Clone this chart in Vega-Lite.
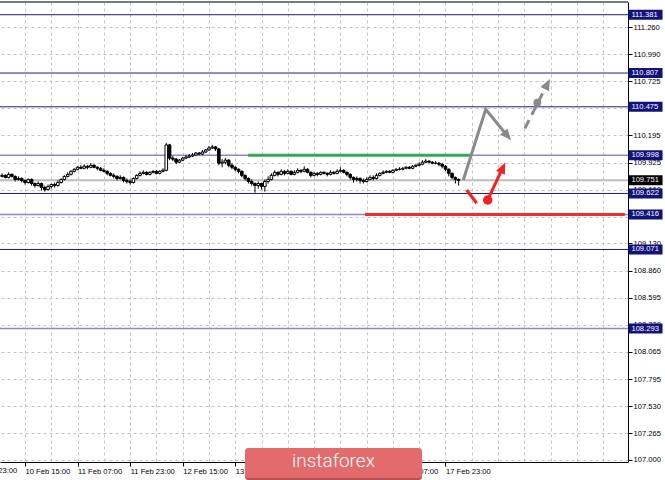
{
"$schema": "https://vega.github.io/schema/vega-lite/v6.json",
"width": 628, "height": 460,
"autosize": {"type": "none"},
"padding": {"left": 0, "top": 2, "right": 37, "bottom": 18},
"background": "white",
"config": {"view": {"stroke": null}, "axis": {"title": null}, "scale": {"continuousPadding": 0}},
"datasets": {
"candles": [
{"i":-135,"o":109.79,"h":109.82,"l":109.78,"c":109.80},
{"i":-134,"o":109.80,"h":109.81,"l":109.77,"c":109.78},
{"i":-133,"o":109.78,"h":109.83,"l":109.77,"c":109.81},
{"i":-132,"o":109.81,"h":109.82,"l":109.78,"c":109.79},
{"i":-131,"o":109.79,"h":109.80,"l":109.74,"c":109.76},
{"i":-130,"o":109.76,"h":109.79,"l":109.75,"c":109.77},
{"i":-129,"o":109.77,"h":109.78,"l":109.73,"c":109.75},
{"i":-128,"o":109.75,"h":109.76,"l":109.71,"c":109.73},
{"i":-127,"o":109.73,"h":109.77,"l":109.72,"c":109.76},
{"i":-126,"o":109.76,"h":109.77,"l":109.70,"c":109.72},
{"i":-125,"o":109.72,"h":109.73,"l":109.68,"c":109.70},
{"i":-124,"o":109.70,"h":109.74,"l":109.69,"c":109.72},
{"i":-123,"o":109.72,"h":109.73,"l":109.65,"c":109.68},
{"i":-122,"o":109.68,"h":109.70,"l":109.64,"c":109.66},
{"i":-121,"o":109.66,"h":109.71,"l":109.65,"c":109.69},
{"i":-120,"o":109.69,"h":109.72,"l":109.67,"c":109.71},
{"i":-119,"o":109.71,"h":109.73,"l":109.68,"c":109.70},
{"i":-118,"o":109.70,"h":109.75,"l":109.69,"c":109.73},
{"i":-117,"o":109.73,"h":109.77,"l":109.72,"c":109.76},
{"i":-116,"o":109.76,"h":109.80,"l":109.75,"c":109.79},
{"i":-115,"o":109.79,"h":109.83,"l":109.78,"c":109.81},
{"i":-114,"o":109.81,"h":109.85,"l":109.80,"c":109.84},
{"i":-113,"o":109.84,"h":109.87,"l":109.83,"c":109.86},
{"i":-112,"o":109.86,"h":109.89,"l":109.85,"c":109.88},
{"i":-111,"o":109.88,"h":109.90,"l":109.86,"c":109.87},
{"i":-110,"o":109.87,"h":109.91,"l":109.86,"c":109.89},
{"i":-109,"o":109.89,"h":109.90,"l":109.86,"c":109.88},
{"i":-108,"o":109.88,"h":109.92,"l":109.87,"c":109.90},
{"i":-107,"o":109.90,"h":109.91,"l":109.87,"c":109.88},
{"i":-106,"o":109.88,"h":109.89,"l":109.85,"c":109.87},
{"i":-105,"o":109.87,"h":109.88,"l":109.84,"c":109.85},
{"i":-104,"o":109.85,"h":109.87,"l":109.83,"c":109.84},
{"i":-103,"o":109.84,"h":109.85,"l":109.80,"c":109.82},
{"i":-102,"o":109.82,"h":109.83,"l":109.79,"c":109.80},
{"i":-101,"o":109.80,"h":109.82,"l":109.77,"c":109.79},
{"i":-100,"o":109.79,"h":109.80,"l":109.75,"c":109.77},
{"i":-99,"o":109.77,"h":109.80,"l":109.76,"c":109.78},
{"i":-98,"o":109.78,"h":109.79,"l":109.73,"c":109.75},
{"i":-97,"o":109.75,"h":109.77,"l":109.72,"c":109.74},
{"i":-96,"o":109.74,"h":109.76,"l":109.71,"c":109.73},
{"i":-95,"o":109.73,"h":109.78,"l":109.72,"c":109.77},
{"i":-94,"o":109.77,"h":109.81,"l":109.76,"c":109.80},
{"i":-93,"o":109.80,"h":109.84,"l":109.79,"c":109.82},
{"i":-92,"o":109.82,"h":109.85,"l":109.81,"c":109.83},
{"i":-91,"o":109.83,"h":109.84,"l":109.80,"c":109.81},
{"i":-90,"o":109.81,"h":109.84,"l":109.80,"c":109.83},
{"i":-89,"o":109.83,"h":109.85,"l":109.82,"c":109.84},
{"i":-88,"o":109.84,"h":109.85,"l":109.81,"c":109.82},
{"i":-87,"o":109.82,"h":109.85,"l":109.81,"c":109.84},
{"i":-86,"o":109.84,"h":109.87,"l":109.83,"c":109.85},
{"i":-85,"o":109.85,"h":110.12,"l":109.84,"c":110.10},
{"i":-84,"o":110.10,"h":110.11,"l":109.95,"c":109.97},
{"i":-83,"o":109.97,"h":109.99,"l":109.94,"c":109.96},
{"i":-82,"o":109.96,"h":109.97,"l":109.91,"c":109.93},
{"i":-81,"o":109.93,"h":109.96,"l":109.92,"c":109.95},
{"i":-80,"o":109.95,"h":109.98,"l":109.94,"c":109.97},
{"i":-79,"o":109.97,"h":110.00,"l":109.96,"c":109.98},
{"i":-78,"o":109.98,"h":110.01,"l":109.97,"c":109.99},
{"i":-77,"o":109.99,"h":110.02,"l":109.98,"c":110.00},
{"i":-76,"o":110.00,"h":110.03,"l":109.99,"c":110.02},
{"i":-75,"o":110.02,"h":110.03,"l":110.00,"c":110.01},
{"i":-74,"o":110.01,"h":110.05,"l":110.00,"c":110.03},
{"i":-73,"o":110.03,"h":110.06,"l":110.02,"c":110.05},
{"i":-72,"o":110.05,"h":110.09,"l":110.04,"c":110.07},
{"i":-71,"o":110.07,"h":110.10,"l":110.06,"c":110.08},
{"i":-70,"o":110.08,"h":110.09,"l":110.04,"c":110.06},
{"i":-69,"o":110.06,"h":110.07,"l":109.90,"c":109.92},
{"i":-68,"o":109.92,"h":109.96,"l":109.88,"c":109.93},
{"i":-67,"o":109.93,"h":109.97,"l":109.91,"c":109.95},
{"i":-66,"o":109.95,"h":109.96,"l":109.88,"c":109.90},
{"i":-65,"o":109.90,"h":109.92,"l":109.86,"c":109.88},
{"i":-64,"o":109.88,"h":109.89,"l":109.84,"c":109.86},
{"i":-63,"o":109.86,"h":109.87,"l":109.82,"c":109.84},
{"i":-62,"o":109.84,"h":109.85,"l":109.78,"c":109.80},
{"i":-61,"o":109.80,"h":109.81,"l":109.75,"c":109.77},
{"i":-60,"o":109.77,"h":109.78,"l":109.72,"c":109.74},
{"i":-59,"o":109.74,"h":109.76,"l":109.70,"c":109.72},
{"i":-58,"o":109.72,"h":109.73,"l":109.63,"c":109.70},
{"i":-57,"o":109.70,"h":109.74,"l":109.67,"c":109.72},
{"i":-56,"o":109.72,"h":109.73,"l":109.66,"c":109.69},
{"i":-55,"o":109.69,"h":109.76,"l":109.64,"c":109.74},
{"i":-54,"o":109.74,"h":109.79,"l":109.72,"c":109.76},
{"i":-53,"o":109.76,"h":109.82,"l":109.75,"c":109.80},
{"i":-52,"o":109.80,"h":109.85,"l":109.79,"c":109.83},
{"i":-51,"o":109.83,"h":109.84,"l":109.79,"c":109.81},
{"i":-50,"o":109.81,"h":109.86,"l":109.80,"c":109.84},
{"i":-49,"o":109.84,"h":109.85,"l":109.80,"c":109.82},
{"i":-48,"o":109.82,"h":109.86,"l":109.81,"c":109.84},
{"i":-47,"o":109.84,"h":109.85,"l":109.80,"c":109.81},
{"i":-46,"o":109.81,"h":109.85,"l":109.80,"c":109.83},
{"i":-45,"o":109.83,"h":109.87,"l":109.82,"c":109.85},
{"i":-44,"o":109.85,"h":109.86,"l":109.82,"c":109.84},
{"i":-43,"o":109.84,"h":109.89,"l":109.83,"c":109.86},
{"i":-42,"o":109.86,"h":109.87,"l":109.82,"c":109.83},
{"i":-41,"o":109.83,"h":109.84,"l":109.78,"c":109.80},
{"i":-40,"o":109.80,"h":109.83,"l":109.79,"c":109.82},
{"i":-39,"o":109.82,"h":109.83,"l":109.79,"c":109.81},
{"i":-38,"o":109.81,"h":109.84,"l":109.80,"c":109.83},
{"i":-37,"o":109.83,"h":109.84,"l":109.81,"c":109.82},
{"i":-36,"o":109.82,"h":109.83,"l":109.79,"c":109.81},
{"i":-35,"o":109.81,"h":109.85,"l":109.80,"c":109.83},
{"i":-34,"o":109.83,"h":109.84,"l":109.81,"c":109.82},
{"i":-33,"o":109.82,"h":109.86,"l":109.81,"c":109.84},
{"i":-32,"o":109.84,"h":109.88,"l":109.83,"c":109.85},
{"i":-31,"o":109.85,"h":109.86,"l":109.82,"c":109.83},
{"i":-30,"o":109.83,"h":109.84,"l":109.79,"c":109.81},
{"i":-29,"o":109.81,"h":109.82,"l":109.76,"c":109.78},
{"i":-28,"o":109.78,"h":109.79,"l":109.73,"c":109.76},
{"i":-27,"o":109.76,"h":109.79,"l":109.74,"c":109.77},
{"i":-26,"o":109.77,"h":109.78,"l":109.72,"c":109.75},
{"i":-25,"o":109.75,"h":109.77,"l":109.72,"c":109.74},
{"i":-24,"o":109.74,"h":109.78,"l":109.73,"c":109.76},
{"i":-23,"o":109.76,"h":109.80,"l":109.75,"c":109.78},
{"i":-22,"o":109.78,"h":109.80,"l":109.75,"c":109.77},
{"i":-21,"o":109.77,"h":109.82,"l":109.76,"c":109.80},
{"i":-20,"o":109.80,"h":109.83,"l":109.79,"c":109.82},
{"i":-19,"o":109.82,"h":109.85,"l":109.81,"c":109.83},
{"i":-18,"o":109.83,"h":109.85,"l":109.82,"c":109.84},
{"i":-17,"o":109.84,"h":109.85,"l":109.82,"c":109.83},
{"i":-16,"o":109.83,"h":109.86,"l":109.82,"c":109.85},
{"i":-15,"o":109.85,"h":109.87,"l":109.84,"c":109.86},
{"i":-14,"o":109.86,"h":109.88,"l":109.85,"c":109.86},
{"i":-13,"o":109.86,"h":109.88,"l":109.85,"c":109.87},
{"i":-12,"o":109.87,"h":109.89,"l":109.86,"c":109.88},
{"i":-11,"o":109.88,"h":109.89,"l":109.86,"c":109.87},
{"i":-10,"o":109.87,"h":109.90,"l":109.86,"c":109.89},
{"i":-9,"o":109.89,"h":109.91,"l":109.88,"c":109.90},
{"i":-8,"o":109.90,"h":109.93,"l":109.89,"c":109.91},
{"i":-7,"o":109.91,"h":109.95,"l":109.90,"c":109.93},
{"i":-6,"o":109.93,"h":109.96,"l":109.92,"c":109.94},
{"i":-5,"o":109.94,"h":109.95,"l":109.92,"c":109.93},
{"i":-4,"o":109.93,"h":109.94,"l":109.91,"c":109.92},
{"i":-3,"o":109.92,"h":109.94,"l":109.91,"c":109.92},
{"i":-2,"o":109.92,"h":109.93,"l":109.89,"c":109.91},
{"i":-1,"o":109.91,"h":109.92,"l":109.87,"c":109.89},
{"i":0,"o":109.89,"h":109.90,"l":109.84,"c":109.86},
{"i":1,"o":109.86,"h":109.87,"l":109.79,"c":109.82},
{"i":2,"o":109.82,"h":109.83,"l":109.76,"c":109.78},
{"i":3,"o":109.78,"h":109.79,"l":109.72,"c":109.76},
{"i":4,"o":109.76,"h":109.77,"l":109.70,"c":109.751}
],
"levels": [
{"p":111.381,"kind":"major"},
{"p":110.807,"kind":"major"},
{"p":110.475,"kind":"major"},
{"p":109.998,"kind":"minor"},
{"p":109.751,"kind":"bid"},
{"p":109.622,"kind":"major"},
{"p":109.416,"kind":"minor"},
{"p":109.071,"kind":"major"},
{"p":108.293,"kind":"minor"}
],
"paths": [
{"g":"g1","i":5.42,"p":109.755},
{"g":"g1","i":12.24,"p":110.450},
{"g":"g1","i":18.69,"p":110.195},
{"g":"g2","i":24.2,"p":110.264},
{"g":"g2","i":30.87,"p":110.691},
{"g":"r1","i":6.45,"p":109.656},
{"g":"r1","i":9.50,"p":109.526},
{"g":"r2","i":12.85,"p":109.558},
{"g":"r2","i":17.35,"p":109.869}
]
},
"layer": [
{"data":{"name":"levels"},
 "mark":{"type":"rule"},
 "encoding":{
  "y":{"field":"p","type":"quantitative","scale":{"domain":[106.98,111.506],"nice":false,"zero":false,"padding":0},
   "axis":{"orient":"right","values":[107.000,107.265,107.530,107.795,108.065,108.330,108.595,108.860,109.130,109.395,109.660,109.925,110.195,110.460,110.725,110.990,111.260],
    "tickCount":100,
    "format":".3f","grid":true,"gridDash":[3,3],"gridColor":"#c4c4c4","gridWidth":1,"domainColor":"#000","domainWidth":1,"tickColor":"#000","tickSize":4,"labelPadding":1,
    "labelFont":"Liberation Sans","labelFontSize":7.6,"labelColor":"#000","labelBaseline":"middle","labelOverlap":false,"labelBound":false,"labelFlush":false}},
  "color":{"field":"kind","type":"nominal","scale":{"domain":["major","minor","bid"],"range":["#1c1c8c","#8888d0","#bdbdbd"]},"legend":null},
  "strokeWidth":{"field":"kind","type":"nominal","scale":{"domain":["major","minor","bid"],"range":[1,2,1]},"legend":null}
 }},
{"data":{"name":"candles"},
 "mark":{"type":"rule","color":"#000","strokeWidth":1},
 "encoding":{
  "x":{"field":"i","type":"quantitative","scale":{"domain":[-135.62,55.56],"nice":false,"zero":false,"padding":0},
   "axis":{"orient":"bottom","values":[-136,-128,-120,-112,-104,-96,-88,-80,-72,-64,-56,-48,-40,-32,-24,-16,-8,0,8,16,24,32,40,48],
    "tickCount":100,
    "grid":true,"gridDash":[3,3],"gridColor":"#c4c4c4","gridWidth":1,"domainColor":"#000","domainWidth":1,"tickColor":"#000","tickSize":4,
    "tickOpacity":{"condition":{"test":"datum.value % 16 == 0 && datum.value <= 0","value":1},"value":0},
    "labelExpr":"(datum.value % 16 == 0 && datum.value <= 0) ? ['07 Feb 23:00','10 Feb 15:00','11 Feb 07:00','11 Feb 23:00','12 Feb 15:00','13 Feb 07:00','13 Feb 23:00','14 Feb 15:00','17 Feb 07:00','17 Feb 23:00'][(datum.value + 144) / 16] : ''",
    "labelAlign":"left","labelBaseline":"top","labelPadding":1,"labelFont":"Liberation Sans","labelFontSize":7.6,"labelColor":"#000","labelOverlap":false,"labelBound":false,"labelFlush":false}},
  "y":{"field":"l","type":"quantitative"},
  "y2":{"field":"h"}
 }},
{"data":{"values":[{"t":"07 Feb 23:00"}]},
 "mark":{"type":"text","align":"left","baseline":"top","color":"#000","font":"Liberation Sans","fontSize":7.6},
 "encoding":{
  "x":{"datum":-144,"type":"quantitative"},
  "y":{"datum":106.9307,"type":"quantitative"},
  "text":{"field":"t"}
 }},
{"data":{"values":[{"a":-60.1,"b":7.5,"p":109.998}]},
 "mark":{"type":"rule","color":"#35a852","strokeWidth":3},
 "encoding":{
  "x":{"field":"a","type":"quantitative"},
  "x2":{"field":"b"},
  "y":{"field":"p","type":"quantitative"}
 }},
{"data":{"values":[{"a":-24.5,"b":54.6,"p":109.416}]},
 "mark":{"type":"rule","color":"#f52a2a","strokeWidth":3},
 "encoding":{
  "x":{"field":"a","type":"quantitative"},
  "x2":{"field":"b"},
  "y":{"field":"p","type":"quantitative"}
 }},
{"data":{"name":"candles"},
 "mark":{"type":"bar","size":2.6,"stroke":"#000","strokeWidth":1},
 "encoding":{
  "x":{"field":"i","type":"quantitative"},
  "y":{"field":"o","type":"quantitative"},
  "y2":{"field":"c"},
  "fill":{"condition":{"test":"datum.c < datum.o","value":"#000"},"value":"#fff"}
 }},
{"data":{"name":"paths"},
 "transform":[{"filter":"datum.g == 'g1'"}],
 "mark":{"type":"line","color":"#8a8a8a","strokeWidth":3},
 "encoding":{
  "x":{"field":"i","type":"quantitative"},
  "y":{"field":"p","type":"quantitative"}
 }},
{"data":{"name":"paths"},
 "transform":[{"filter":"datum.g == 'g2'"}],
 "mark":{"type":"line","color":"#8a8a8a","strokeWidth":3,"strokeDash":[9,6]},
 "encoding":{
  "x":{"field":"i","type":"quantitative"},
  "y":{"field":"p","type":"quantitative"}
 }},
{"data":{"name":"paths"},
 "transform":[{"filter":"datum.g == 'r1' || datum.g == 'r2'"}],
 "mark":{"type":"line","color":"#f52020","strokeWidth":3},
 "encoding":{
  "x":{"field":"i","type":"quantitative"},
  "y":{"field":"p","type":"quantitative"},
  "detail":{"field":"g","type":"nominal"}
 }},
{"data":{"values":[{"i":27.94,"p":110.515}]},
 "mark":{"type":"point","shape":"circle","filled":true,"opacity":1,"color":"#8a8a8a","size":60},
 "encoding":{
  "x":{"field":"i","type":"quantitative"},
  "y":{"field":"p","type":"quantitative"}
 }},
{"data":{"values":[{"i":12.85,"p":109.558}]},
 "mark":{"type":"point","shape":"circle","filled":true,"opacity":1,"color":"#f52020","size":90},
 "encoding":{
  "x":{"field":"i","type":"quantitative"},
  "y":{"field":"p","type":"quantitative"}
 }},
{"data":{"values":[{"i":18.69,"p":110.195}]},
 "mark":{"type":"point","shape":"M0,-1.1L0.8,0.8L-0.8,0.8Z","filled":true,"opacity":1,"color":"#8a8a8a","size":144,"angle":141},
 "encoding":{
  "x":{"field":"i","type":"quantitative"},
  "y":{"field":"p","type":"quantitative"}
 }},
{"data":{"values":[{"i":30.87,"p":110.691}]},
 "mark":{"type":"point","shape":"M0,-1.1L0.8,0.8L-0.8,0.8Z","filled":true,"opacity":1,"color":"#8a8a8a","size":144,"angle":27},
 "encoding":{
  "x":{"field":"i","type":"quantitative"},
  "y":{"field":"p","type":"quantitative"}
 }},
{"data":{"values":[{"i":17.35,"p":109.869}]},
 "mark":{"type":"point","shape":"M0,-1.1L0.8,0.8L-0.8,0.8Z","filled":true,"opacity":1,"color":"#f52020","size":144,"angle":25},
 "encoding":{
  "x":{"field":"i","type":"quantitative"},
  "y":{"field":"p","type":"quantitative"}
 }},
{"data":{"name":"levels"},
 "mark":{"type":"tick","orient":"horizontal","size":34,"thickness":10,"opacity":1},
 "encoding":{
  "x":{"datum":60.9,"type":"quantitative"},
  "y":{"field":"p","type":"quantitative"},
  "color":{"condition":{"test":"datum.kind == 'bid'","value":"#000"},"value":"#12127c"}
 }},
{"data":{"name":"levels"},
 "mark":{"type":"text","align":"left","baseline":"middle","color":"#fff","font":"Liberation Sans","fontSize":7.6},
 "encoding":{
  "x":{"datum":56.6,"type":"quantitative"},
  "y":{"field":"p","type":"quantitative"},
  "text":{"field":"p","type":"quantitative","format":".3f"}
 }},
{"data":{"values":[{"p":111.506}]},
 "mark":{"type":"rule","color":"#7a7a7a","strokeWidth":2},
 "encoding":{
  "y":{"field":"p","type":"quantitative"}
 }},
{"data":{"values":[{"name":"instaforex"}]},
 "mark":{"type":"rect","color":"#b85252","cornerRadius":3},
 "encoding":{
  "x":{"datum":-61.04,"type":"quantitative"},
  "x2":{"datum":-7.15},
  "y":{"datum":107.10,"type":"quantitative"},
  "y2":{"datum":106.803}
 }},
{"data":{"values":[{"name":"instaforex"}]},
 "mark":{"type":"rect","color":"#e36b6b","cornerRadius":3},
 "encoding":{
  "x":{"datum":-61.04,"type":"quantitative"},
  "x2":{"datum":-7.15},
  "y":{"datum":107.118,"type":"quantitative"},
  "y2":{"datum":106.823}
 }},
{"data":{"values":[{"name":"instaforex"}]},
 "mark":{"type":"text","align":"center","baseline":"alphabetic","color":"#fff","font":"Roboto","fontWeight":300,"fontSize":19},
 "encoding":{
  "x":{"datum":-34.1,"type":"quantitative"},
  "y":{"datum":106.931,"type":"quantitative"},
  "text":{"field":"name"}
 }}
]
}
